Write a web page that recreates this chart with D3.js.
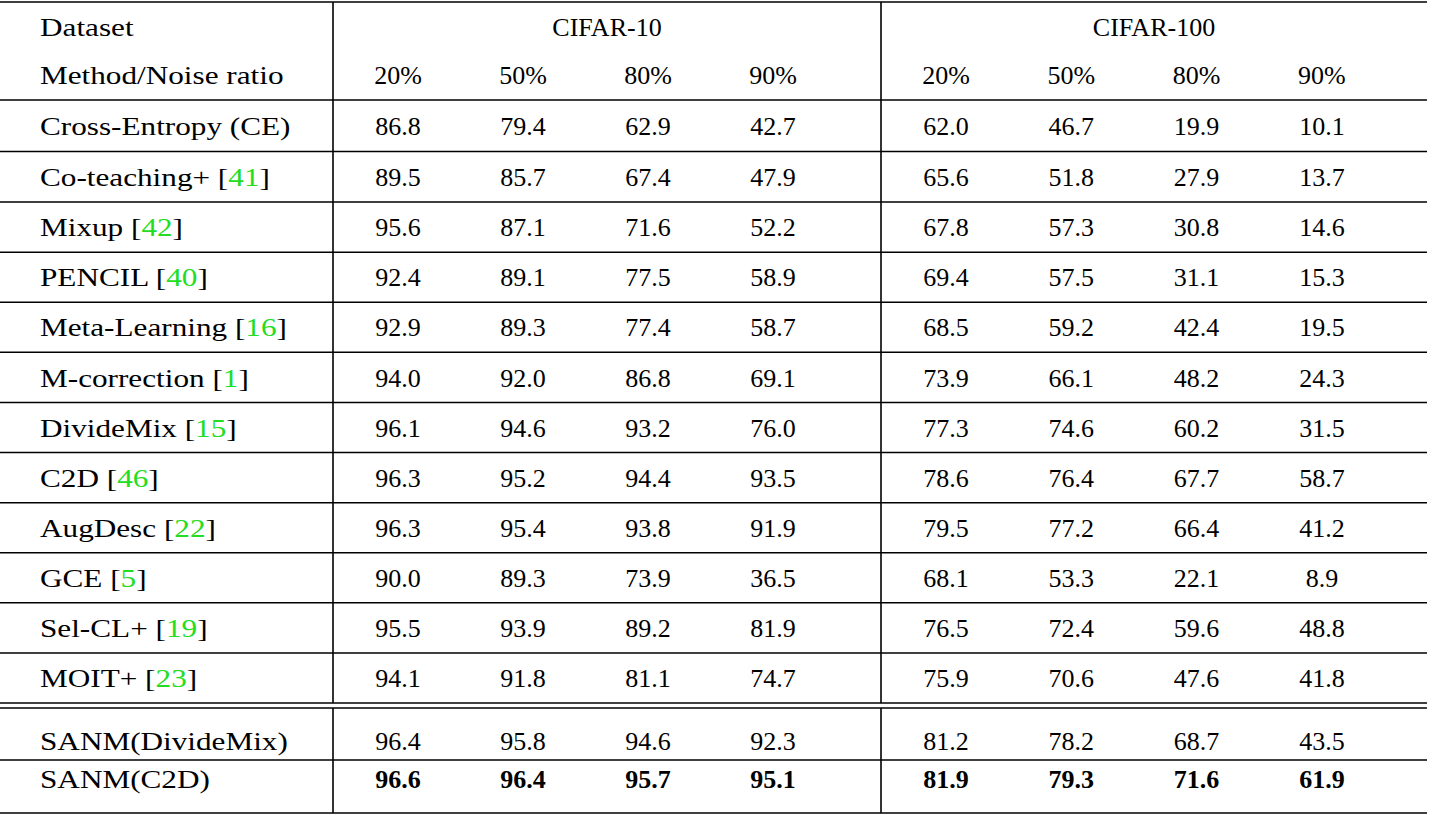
<!DOCTYPE html>
<html><head><meta charset="utf-8">
<script src="https://cdn.jsdelivr.net/npm/d3@7"></script>
<style>body{margin:0;background:#fff}svg{display:block}</style>
</head><body>
<script>
const methods = ["Cross-Entropy (CE)","Co-teaching+ ","Mixup ","PENCIL ","Meta-Learning ","M-correction ","DivideMix ","C2D ","AugDesc ","GCE ","Sel-CL+ ","MOIT+ "];
const refs = ["","41","42","40","16","1","15","46","22","5","19","23"];
const ours = ["SANM(DivideMix)","SANM(C2D)"];
const noiseLabels = ["20%","50%","80%","90%"];
const datasets = ["CIFAR-10","CIFAR-100"];
const cifar10 = [
[86.8,79.4,62.9,42.7],[89.5,85.7,67.4,47.9],[95.6,87.1,71.6,52.2],[92.4,89.1,77.5,58.9],
[92.9,89.3,77.4,58.7],[94.0,92.0,86.8,69.1],[96.1,94.6,93.2,76.0],[96.3,95.2,94.4,93.5],
[96.3,95.4,93.8,91.9],[90.0,89.3,73.9,36.5],[95.5,93.9,89.2,81.9],[94.1,91.8,81.1,74.7]];
const cifar100 = [
[62.0,46.7,19.9,10.1],[65.6,51.8,27.9,13.7],[67.8,57.3,30.8,14.6],[69.4,57.5,31.1,15.3],
[68.5,59.2,42.4,19.5],[73.9,66.1,48.2,24.3],[77.3,74.6,60.2,31.5],[78.6,76.4,67.7,58.7],
[79.5,77.2,66.4,41.2],[68.1,53.3,22.1,8.9],[76.5,72.4,59.6,48.8],[75.9,70.6,47.6,41.8]];
const oursC10 = [[96.4,95.8,94.6,92.3],[96.6,96.4,95.7,95.1]];
const oursC100 = [[81.2,78.2,68.7,43.5],[81.9,79.3,71.6,61.9]];

const W=1433,H=815;
const svg=d3.select("body").append("svg").attr("width",W).attr("height",H);
const font="'Liberation Serif','Times New Roman',serif", fs=26;
const colPos = i => i<4 ? 398+i*125 : 946+(i-4)*125.3;
const rowY = d3.scaleLinear().domain([1,11]).range([177,678]);
const rY = r => r===0 ? 126 : rowY(r);
const oursY = d3.scaleLinear().domain([0,1]).range([741,779]);
const lx=40;
function txt(x,y,s,anchor,bold){
  return svg.append("text").attr("x",x).attr("y",y).attr("dy","0.35em")
   .attr("text-anchor",anchor||"start").attr("font-family",font).attr("font-size",fs)
   .attr("font-weight",bold?"bold":"normal").attr("fill","#000").text(s);
}
function stretch(t){ const w=t.node().getComputedTextLength(); t.attr("textLength",w*1.2).attr("lengthAdjust","spacingAndGlyphs"); }
// header
stretch(txt(lx,27,"Dataset"));
stretch(txt(lx,75,"Method/Noise ratio"));
txt((333+881)/2,27,datasets[0],"middle");
txt((881+1427)/2,27,datasets[1],"middle");
for(let i=0;i<8;i++) txt(colPos(i),75,noiseLabels[i%4],"middle");
// body
methods.forEach((m,r)=>{
  const t=txt(lx,rY(r),m);
  if(refs[r]){ t.append("tspan").text("["); t.append("tspan").attr("fill","#22dd22").text(refs[r]); t.append("tspan").text("]"); }
  stretch(t);
  cifar10[r].concat(cifar100[r]).forEach((v,i)=>txt(colPos(i),rY(r),v.toFixed(1),"middle"));
});
ours.forEach((m,r)=>{
  stretch(txt(lx,oursY(r),m));
  oursC10[r].concat(oursC100[r]).forEach((v,i)=>txt(colPos(i),oursY(r),v.toFixed(1),"middle",r===1));
});
// lines
const ln=(x1,y1,x2,y2,w)=>svg.append("line").attr("x1",x1).attr("x2",x2).attr("y1",y1).attr("y2",y2).attr("stroke","#000").attr("stroke-width",w||1.5);
[2,100,703,708,813].forEach(y=>ln(0,y,1427,y,1.6));
for(let r=1;r<12;r++){const y=(rY(r-1)+rY(r))/2; ln(0,y,1427,y);}
const yMid=(oursY(0)+oursY(1))/2; ln(0,yMid,1427,yMid);
[333,881].forEach(x=>{ ln(x,2,x,703,1.6); ln(x,708,x,813,1.6); });
</script>
</body></html>
